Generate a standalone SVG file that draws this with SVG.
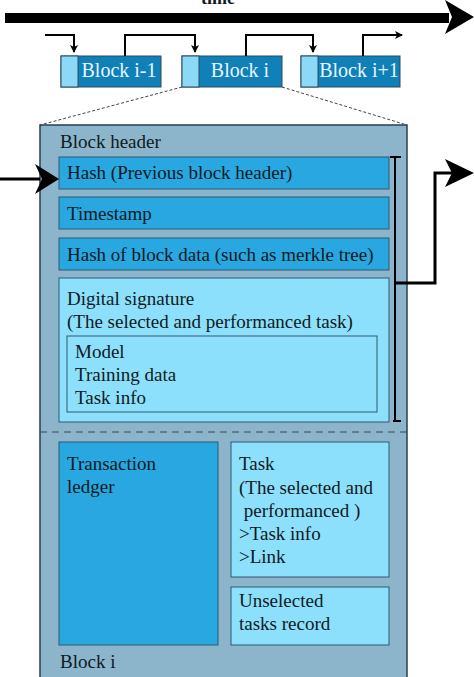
<svg xmlns="http://www.w3.org/2000/svg" width="474" height="677" viewBox="0 0 474 677">
<defs>
<style>
text{font-family:"Liberation Serif","Times New Roman",serif;font-size:19px;fill:#0d1a22}
.blk{font-size:20px;fill:#e8f6ff}
.dark{fill:#0f80b8;stroke:#2c4a5c;stroke-width:1}
.light{fill:#8bd9f7;stroke:#2c4a5c;stroke-width:1}
.mid{fill:#29a7e0;stroke:#2c5a70;stroke-width:1}
.pale{fill:#8de0fb;stroke:#2c5a70;stroke-width:1}
.conn{fill:none;stroke:#000;stroke-width:2}
.dash{fill:none;stroke:#444;stroke-width:1;stroke-dasharray:3,2}
</style>
<marker id="ah" markerWidth="8" markerHeight="8" refX="7" refY="4" orient="auto" markerUnits="userSpaceOnUse">
<path d="M0,0 L8,4 L0,8 L2,4 Z" fill="#000"/>
</marker>
</defs>
<rect width="474" height="677" fill="#fff"/>

<g id="time-arrow">
<text x="218" y="4" text-anchor="middle" style="font-weight:bold;font-size:18px">time</text>
<rect x="5" y="13" width="444" height="10" fill="#000"/>
<path d="M445,0 L474,17 L445,34 L452,17 Z" fill="#000"/>
</g>

<g id="block-i-1">
<rect class="dark" x="61" y="56" width="100" height="31"/>
<rect class="light" x="61" y="56" width="17" height="31"/>
<text class="blk" x="119" y="77" text-anchor="middle">Block i-1</text>
</g>
<g id="block-i">
<rect class="dark" x="182" y="56" width="100" height="31"/>
<rect class="light" x="182" y="56" width="17" height="31"/>
<text class="blk" x="240" y="77" text-anchor="middle">Block i</text>
</g>
<g id="block-i+1">
<rect class="dark" x="301" y="56" width="99" height="31"/>
<rect class="light" x="301" y="56" width="17" height="31"/>
<text class="blk" x="359" y="77" text-anchor="middle">Block i+1</text>
</g>

<g id="block-i-detail">
<rect x="40" y="125" width="367" height="560" fill="#8cb5cc" stroke="#24404f" stroke-width="1.5"/>
<text x="60" y="148">Block header</text>
<line x1="40" y1="432" x2="407" y2="432" class="dash" style="stroke-dasharray:7,5"/>
<text x="60" y="668">Block i</text>
</g>

<g id="hash-prev">
<rect class="mid" x="59" y="157" width="330" height="32"/>
<text x="67" y="179">Hash (Previous block header)</text>
</g>
<g id="timestamp">
<rect class="mid" x="59" y="197" width="330" height="32"/>
<text x="67" y="220">Timestamp</text>
</g>
<g id="hash-data">
<rect class="mid" x="59" y="238" width="330" height="32"/>
<text x="67" y="261">Hash of block data (such as merkle tree)</text>
</g>
<g id="digital-signature">
<rect class="pale" x="59" y="278" width="330" height="144"/>
<text x="67" y="305">Digital signature</text>
<text x="67" y="328">(The selected and performanced task)</text>
<rect x="67" y="336" width="310" height="76" fill="none" stroke="#2c5a70" stroke-width="1"/>
<text x="75" y="358">Model</text>
<text x="75" y="381">Training data</text>
<text x="75" y="404">Task info</text>
</g>

<g id="transaction-ledger">
<rect class="mid" x="59" y="442" width="159" height="203"/>
<text x="67" y="470">Transaction</text>
<text x="67" y="493">ledger</text>
</g>
<g id="task">
<rect class="pale" x="231" y="442" width="158" height="135"/>
<text x="239" y="470">Task</text>
<text x="239" y="494">(The selected and</text>
<text x="239" y="517" xml:space="preserve"> performanced )</text>
<text x="239" y="540">&gt;Task info</text>
<text x="239" y="563">&gt;Link</text>
</g>
<g id="unselected">
<rect class="pale" x="231" y="587" width="158" height="58"/>
<text x="239" y="607">Unselected</text>
<text x="239" y="630">tasks record</text>
</g>

<g id="connectors">
<path class="conn" d="M45,35 H74 V52" marker-end="url(#ah)"/>
<path class="conn" d="M125,56 V35 H195 V52" marker-end="url(#ah)"/>
<path class="conn" d="M246,56 V35 H313 V52" marker-end="url(#ah)"/>
<path class="conn" d="M363,56 V35 H402" marker-end="url(#ah)"/>
<line class="dash" x1="182" y1="87" x2="40" y2="125"/>
<line class="dash" x1="282" y1="87" x2="407" y2="125"/>
<line x1="0" y1="179" x2="40" y2="179" stroke="#000" stroke-width="3"/>
<path d="M35,164 L59,179 L35,194 L42,179 Z" fill="#000"/>
<path d="M395,157 V421 M390,157 H401 M393,421 H401" fill="none" stroke="#000" stroke-width="2"/>
<path d="M396,283 H435 V173 H452" fill="none" stroke="#000" stroke-width="3"/>
<path d="M445,159 L474,173 L445,187 L452,173 Z" fill="#000"/>
</g>
</svg>
